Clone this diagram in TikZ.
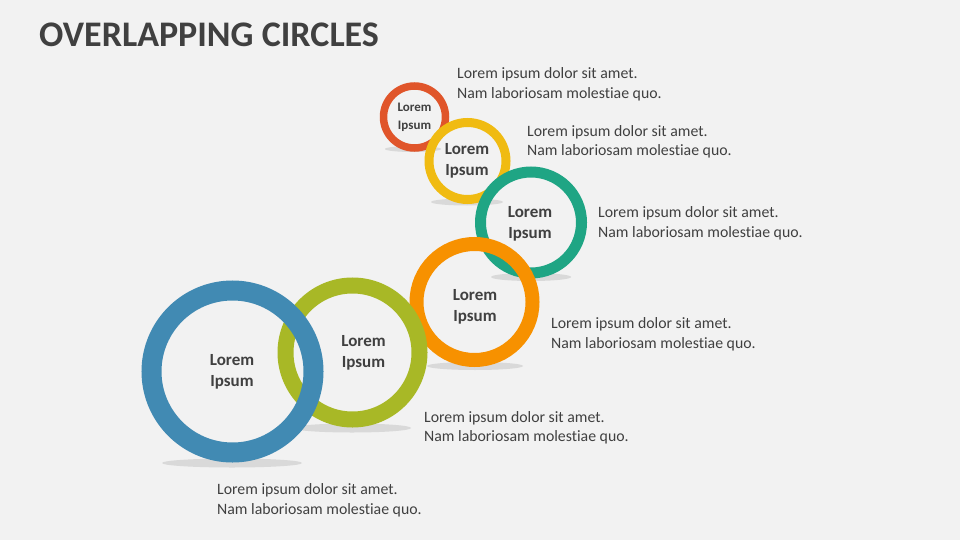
\documentclass[tikz,border=0pt]{standalone}
\usepackage{fontspec}
\setmainfont[Ligatures=NoCommon]{Carlito}
\definecolor{bg}{HTML}{F2F2F2}
\definecolor{txt}{HTML}{404040}
\definecolor{cblue}{HTML}{418AB3}
\definecolor{cgreen}{HTML}{A8B826}
\definecolor{corange}{HTML}{F79100}
\definecolor{cteal}{HTML}{1FA584}
\definecolor{cyellow}{HTML}{F0BB12}
\definecolor{cred}{HTML}{E0552A}
\definecolor{shad}{HTML}{D9D9D9}
\tikzset{
  ring/.style={circle, draw=#1, inner sep=0pt, outer sep=0pt},
  lbl/.style={text=txt, font=\fontsize{17}{21}\selectfont\bfseries, align=center, inner sep=0pt},
  smalllbl/.style={text=txt, font=\fontsize{13}{18}\selectfont\bfseries, align=center, inner sep=0pt},
  desc/.style={text=txt, font=\fontsize{15.8}{19.5}\selectfont, align=left, anchor=west, inner sep=0pt},
  shadowfill/.style={fill=shad},
}
\begin{document}
\begin{tikzpicture}[x=1pt,y=-1pt]
\fill[bg] (0,0) rectangle (960,540);
\useasboundingbox (0,0) rectangle (960,540);
% title
\node[anchor=west, text=txt, font=\fontsize{36}{40}\selectfont\bfseries, inner sep=0pt] (title) at (39,35) {OVERLAPPING CIRCLES};
% shadows
\fill[shadowfill] (232,463) ellipse [x radius=70pt, y radius=4.5pt];
\fill[shadowfill] (352,428) ellipse [x radius=59pt, y radius=4.5pt];
\fill[shadowfill] (475,366) ellipse [x radius=48pt, y radius=4pt];
\fill[shadowfill] (531,277) ellipse [x radius=40pt, y radius=4pt];
\fill[shadowfill] (467,202) ellipse [x radius=36pt, y radius=3.5pt];
\fill[shadowfill] (413,149) ellipse [x radius=28pt, y radius=3pt];
% rings, back to front
\node[ring=cred, line width=7.5pt, minimum size=62pt] (red) at (414.5,117) {};
\node[ring=cyellow, line width=9pt, minimum size=77pt] (yellow) at (467.5,161) {};
\node[ring=cteal, line width=11pt, minimum size=101pt] (teal) at (531,222.5) {};
\node[ring=corange, line width=14pt, minimum size=116pt] (orange) at (474.5,302) {};
\node[ring=cgreen, line width=16pt, minimum size=134pt] (green) at (352.5,352.5) {};
\node[ring=cblue, line width=20pt, minimum size=162pt] (blue) at (232.5,371.5) {};
% labels
\node[smalllbl] (redl) at (414.5,117.5) {Lorem\\Ipsum};
\node[lbl] (yellowl) at (467,160.5) {Lorem\\Ipsum};
\node[lbl] (teall) at (530,223.5) {Lorem\\Ipsum};
\node[lbl] (orangel) at (475,306.5) {Lorem\\Ipsum};
\node[lbl] (greenl) at (363.5,353) {Lorem\\Ipsum};
\node[lbl] (bluel) at (232,371.5) {Lorem\\Ipsum};
% descriptions
\node[desc] (redd) at (457,84.5) {Lorem ipsum dolor sit amet.\\Nam laboriosam molestiae quo.};
\node[desc] (yellowd) at (527,142) {Lorem ipsum dolor sit amet.\\Nam laboriosam molestiae quo.};
\node[desc] (teald) at (598,223.5) {Lorem ipsum dolor sit amet.\\Nam laboriosam molestiae quo.};
\node[desc] (oranged) at (551,334.5) {Lorem ipsum dolor sit amet.\\Nam laboriosam molestiae quo.};
\node[desc] (greend) at (424,428) {Lorem ipsum dolor sit amet.\\Nam laboriosam molestiae quo.};
\node[desc] (blued) at (217,500.5) {Lorem ipsum dolor sit amet.\\Nam laboriosam molestiae quo.};
\end{tikzpicture}
\end{document}
